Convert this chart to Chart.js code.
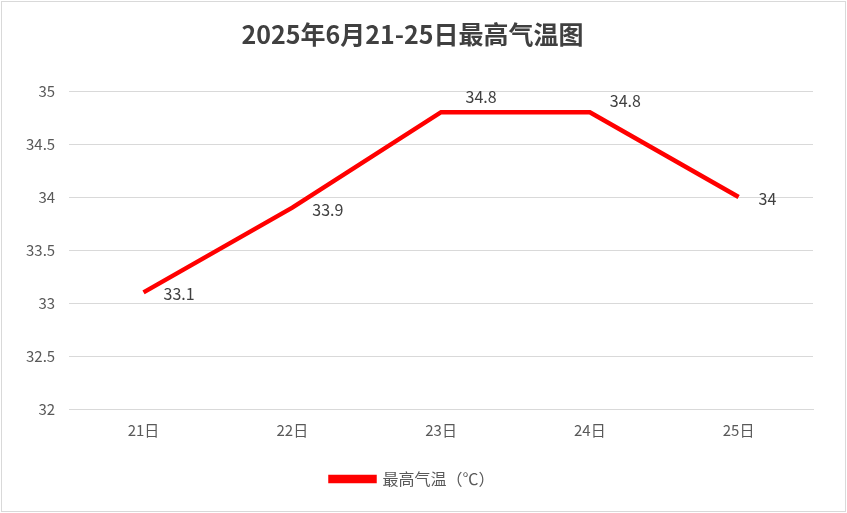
<!DOCTYPE html>
<html>
<head>
<meta charset="utf-8">
<script src="https://cdn.jsdelivr.net/npm/chart.js@4"></script>
<style>
  html, body { margin: 0; padding: 0; background: #fff; }
  #wrap { position: absolute; left: 1px; top: 1px; width: 843px; height: 509px; border: 1px solid #d9d9d9; }
</style>
</head>
<body>
<div id="wrap"><canvas id="chart"></canvas></div>
<script>
const categories = ['21日', '22日', '23日', '24日', '25日'];
const maxTemps = [33.1, 33.9, 34.8, 34.8, 34];
const seriesName = '最高气温（℃）';

// value labels next to each point
const pointLabels = {
    id: 'pointLabels',
    afterDatasetsDraw(chart) {
        const ctx = chart.ctx;
        const meta = chart.getDatasetMeta(0);
        const place = ['right', 'right', 'above', 'right', 'right'];
        ctx.save();
        ctx.font = '16px "Noto Sans CJK SC", sans-serif';
        ctx.fillStyle = '#404040';
        ctx.textBaseline = 'middle';
        meta.data.forEach((pt, i) => {
            const txt = String(maxTemps[i]);
            if (place[i] === 'above') {
                ctx.textAlign = 'center';
                ctx.fillText(txt, pt.x + 40, pt.y - 15);
            } else {
                ctx.textAlign = 'left';
                ctx.fillText(txt, pt.x + 20, pt.y + (i === 3 ? -11 : 2));
            }
        });
        ctx.restore();
    }
};

new Chart(document.getElementById('chart'), {
    type: 'line',
    data: {
        labels: categories,
        datasets: [{
            label: seriesName,
            data: maxTemps,
            borderColor: '#ff0000',
            backgroundColor: '#ff0000',
            borderWidth: 4.5,
            pointRadius: 0,
            tension: 0,
            fill: false
        }]
    },
    options: {
        responsive: true,
        maintainAspectRatio: false,
        animation: false,
        layout: { padding: { left: 10, right: 32, top: 0, bottom: 14 } },
        scales: {
            x: {
                offset: true,
                grid: { display: false, drawTicks: false },
                border: { color: '#d9d9d9', width: 1 },
                ticks: { color: '#595959', padding: 12, font: { size: 15, family: '"Noto Sans CJK SC", sans-serif' } }
            },
            y: {
                min: 32, max: 35,
                ticks: {
                    stepSize: 0.5, color: '#595959', padding: 14,
                    font: { size: 15, family: '"Noto Sans CJK SC", sans-serif' },
                    callback: v => String(v)
                },
                grid: { color: '#d9d9d9', drawTicks: false },
                border: { display: false }
            }
        },
        plugins: {
            title: {
                display: true,
                text: '2025年6月21-25日最高气温图',
                color: '#404040',
                font: { size: 25, weight: 'bold', family: '"Noto Sans CJK SC", sans-serif' },
                padding: { top: 17, bottom: 42 }
            },
            legend: {
                position: 'bottom',
                labels: {
                    color: '#595959',
                    boxWidth: 44, boxHeight: 4,
                    padding: 20,
                    font: { size: 16, family: '"Noto Sans CJK SC", sans-serif' }
                }
            },
            tooltip: { enabled: false }
        }
    },
    plugins: [pointLabels]
});
</script>
</body>
</html>
